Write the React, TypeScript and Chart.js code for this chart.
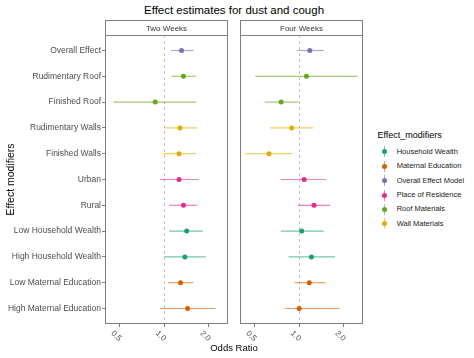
import React, { useEffect, useRef } from "react";
import { Chart, registerables } from "chart.js";

Chart.register(...registerables);

// Effect modifiers, top to bottom
const modifiers = [
  "Overall Effect",
  "Rudimentary Roof",
  "Finished Roof",
  "Rudimentary Walls",
  "Finished Walls",
  "Urban",
  "Rural",
  "Low Household Wealth",
  "High Household Wealth",
  "Low Maternal Education",
  "High Maternal Education",
];

// group that each modifier belongs to (indexes into groups)
const modifierGroup = [2, 4, 4, 5, 5, 3, 3, 0, 0, 1, 1];

const groups = [
  "Household Wealth",
  "Maternal Education",
  "Overall Effect Model",
  "Place of Residence",
  "Roof Materials",
  "Wall Materials",
];
const groupColors = ["#1B9E77", "#D95F02", "#7570B3", "#E7298A", "#66A61E", "#E6AB02"];

// Two weeks: odds ratio with 95% CI
const twoWeeksOR = [1.31, 1.35, 0.87, 1.28, 1.26, 1.26, 1.35, 1.42, 1.38, 1.29, 1.44];
const twoWeeksLower = [1.11, 1.12, 0.455, 1.0, 0.985, 0.935, 1.08, 1.08, 1.0, 1.06, 0.935];
const twoWeeksUpper = [1.58, 1.64, 1.64, 1.67, 1.635, 1.71, 1.68, 1.83, 1.91, 1.575, 2.22];

// Four weeks: odds ratio with 95% CI
const fourWeeksOR = [1.18, 1.12, 0.755, 0.89, 0.625, 1.08, 1.26, 1.04, 1.21, 1.17, 1.0];
const fourWeeksLower = [0.97, 0.505, 0.585, 0.635, 0.434, 0.75, 0.98, 0.75, 0.847, 0.93, 0.8];
const fourWeeksUpper = [1.465, 2.47, 0.98, 1.24, 0.9, 1.52, 1.62, 1.465, 1.75, 1.51, 1.87];

const oddsTicks = [0.5, 1, 2];
const oddsTickLabels = ["0.5", "1.0", "2.0"];

const FONT = "'Liberation Sans', Arial, Helvetica, sans-serif";
const FRAME = "#7f7f7f";

function rgba(hex: string, a: number) {
  const n = parseInt(hex.slice(1), 16);
  return `rgba(${(n >> 16) & 255},${(n >> 8) & 255},${n & 255},${a})`;
}

function makePanelPlugin(title: string, lower: number[], upper: number[]) {
  return {
    id: "panelDecor",
    beforeDatasetsDraw(chart: any) {
      const { ctx, chartArea: a, scales } = chart;
      const x = scales.x;
      const y = scales.y;
      ctx.save();
      // reference line at OR = 1
      const x1 = Math.round(x.getPixelForValue(1)) + 0.5;
      ctx.strokeStyle = "#c4c4c4";
      ctx.lineWidth = 1;
      ctx.setLineDash([3, 3]);
      ctx.beginPath();
      ctx.moveTo(x1, a.top);
      ctx.lineTo(x1, a.bottom);
      ctx.stroke();
      ctx.setLineDash([]);
      // confidence intervals
      lower.forEach((lo, i) => {
        const py = y.getPixelForValue(i + 1);
        ctx.strokeStyle = rgba(groupColors[modifierGroup[i]], 0.6);
        ctx.lineWidth = 1.2;
        ctx.beginPath();
        ctx.moveTo(x.getPixelForValue(lo), py);
        ctx.lineTo(x.getPixelForValue(upper[i]), py);
        ctx.stroke();
      });
      ctx.restore();
    },
    afterDraw(chart: any) {
      const { ctx, chartArea: a, scales } = chart;
      const x = scales.x;
      ctx.save();
      const l = Math.round(a.left) + 0.5;
      const r = Math.round(a.right) - 0.5;
      const t = Math.round(a.top) + 0.5;
      const b = Math.round(a.bottom) - 0.5;
      ctx.strokeStyle = FRAME;
      ctx.lineWidth = 1;
      // panel frame
      ctx.strokeRect(l, t, r - l, b - t);
      // facet strip
      const stripTop = 20.5;
      ctx.fillStyle = "#ffffff";
      ctx.fillRect(l, stripTop, r - l, t - stripTop);
      ctx.strokeRect(l, stripTop, r - l, t - stripTop);
      ctx.fillStyle = "#333333";
      ctx.font = `8px ${FONT}`;
      ctx.textAlign = "center";
      ctx.textBaseline = "middle";
      ctx.fillText(title, (l + r) / 2, (stripTop + t) / 2 + 0.5);
      // rotated odds-ratio tick labels
      ctx.fillStyle = "#4d4d4d";
      oddsTicks.forEach((v, i) => {
        const px = x.getPixelForValue(v);
        ctx.save();
        ctx.translate(px - 3.5, a.bottom + 12);
        ctx.rotate(Math.PI / 4);
        ctx.fillText(oddsTickLabels[i], 0, 0);
        ctx.restore();
      });
      ctx.restore();
    },
  };
}

function xScale() {
  return {
    type: "logarithmic" as const,
    min: 0.398,
    max: 2.7,
    afterBuildTicks: (s: any) => {
      s.ticks = oddsTicks.map((v) => ({ value: v }));
    },
    afterFit: (s: any) => {
      s.height = 34;
    },
    ticks: { display: false },
    grid: { drawOnChartArea: false, drawTicks: true, tickLength: 3, color: FRAME },
    border: { display: false },
  };
}

function yScale(showLabels: boolean) {
  return {
    type: "linear" as const,
    reverse: true,
    min: 0.4,
    max: 11.6,
    display: showLabels,
    afterBuildTicks: (s: any) => {
      s.ticks = modifiers.map((_, i) => ({ value: i + 1 }));
    },
    afterFit: (s: any) => {
      s.width = showLabels ? 105 : 0;
    },
    ticks: {
      autoSkip: false,
      padding: 1,
      color: "#4d4d4d",
      font: { family: FONT, size: 8.5 },
      callback: (v: any) => modifiers[Number(v) - 1],
    },
    grid: { drawOnChartArea: false, drawTicks: true, tickLength: 3, color: FRAME },
    border: { display: false },
    title: {
      display: true,
      text: "Effect modifiers",
      color: "#000000",
      font: { family: FONT, size: 10.5 },
      padding: { top: 4.5, bottom: 0 },
    },
  };
}

function buildConfig(
  title: string,
  or: number[],
  lower: number[],
  upper: number[],
  first: boolean
): any {
  return {
    type: "scatter",
    data: {
      datasets: [
        {
          data: or.map((v, i) => ({ x: v, y: i + 1 })),
          pointRadius: 2.5,
          pointBorderWidth: 0,
          pointBackgroundColor: or.map((_, i) => groupColors[modifierGroup[i]]),
          pointBorderColor: or.map((_, i) => groupColors[modifierGroup[i]]),
        },
      ],
    },
    options: {
      responsive: false,
      animation: false,
      events: [],
      layout: {
        padding: first
          ? { top: 35, right: 4, left: 0, bottom: 0 }
          : { top: 35, right: 4, left: 4, bottom: 0 },
      },
      plugins: { legend: { display: false }, tooltip: { enabled: false } },
      scales: { x: xScale(), y: yScale(first) },
    },
    plugins: [makePanelPlugin(title, lower, upper)],
  };
}

export default function App() {
  const leftRef = useRef<HTMLCanvasElement>(null);
  const rightRef = useRef<HTMLCanvasElement>(null);

  useEffect(() => {
    const c1 = new Chart(
      leftRef.current as HTMLCanvasElement,
      buildConfig("Two Weeks", twoWeeksOR, twoWeeksLower, twoWeeksUpper, true)
    );
    const c2 = new Chart(
      rightRef.current as HTMLCanvasElement,
      buildConfig("Four Weeks", fourWeeksOR, fourWeeksLower, fourWeeksUpper, false)
    );
    return () => {
      c1.destroy();
      c2.destroy();
    };
  }, []);

  return (
    <div
      style={{
        position: "fixed",
        left: 0,
        top: 0,
        width: 474,
        height: 358,
        background: "#ffffff",
        fontFamily: FONT,
        overflow: "hidden",
      }}
    >
      <div
        style={{
          position: "absolute",
          left: 0,
          top: 3,
          width: 468,
          textAlign: "center",
          fontSize: 11.5,
          lineHeight: "14px",
          color: "#000",
        }}
      >
        Effect estimates for dust and cough
      </div>
      <canvas
        ref={leftRef}
        width={232}
        height={358}
        style={{ position: "absolute", left: 0, top: 0, width: 232, height: 358 }}
      />
      <canvas
        ref={rightRef}
        width={131}
        height={358}
        style={{ position: "absolute", left: 236, top: 0, width: 131, height: 358 }}
      />
      <div
        style={{
          position: "absolute",
          left: 0,
          top: 342,
          width: 468,
          textAlign: "center",
          fontSize: 9.5,
          lineHeight: "12px",
          color: "#000",
        }}
      >
        Odds Ratio
      </div>
      <div
        style={{
          position: "absolute",
          left: 377.5,
          top: 129,
          fontSize: 9,
          lineHeight: "12px",
          color: "#000",
          whiteSpace: "nowrap",
        }}
      >
        Effect_modifiers
      </div>
      {groups.map((g, i) => {
        const cy = 151.8 + 14.4 * i;
        return (
          <React.Fragment key={g}>
            <div
              style={{
                position: "absolute",
                left: 383.5,
                top: cy - 5.5,
                width: 1.2,
                height: 11,
                background: rgba(groupColors[i], 0.6),
              }}
            />
            <div
              style={{
                position: "absolute",
                left: 384.1 - 2.5,
                top: cy - 2.5,
                width: 5,
                height: 5,
                borderRadius: "50%",
                background: groupColors[i],
              }}
            />
            <div
              style={{
                position: "absolute",
                left: 396.7,
                top: cy - 5,
                fontSize: 7.5,
                lineHeight: "10px",
                color: "#1a1a1a",
                whiteSpace: "nowrap",
              }}
            >
              {g}
            </div>
          </React.Fragment>
        );
      })}
    </div>
  );
}
